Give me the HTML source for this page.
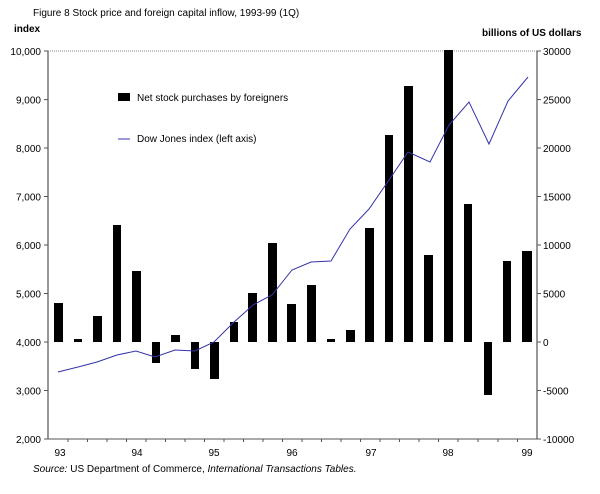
<!DOCTYPE html>
<html><head><style>
body{margin:0;background:#fff;}
svg text{font-family:"Liberation Sans",Arial,sans-serif;font-size:10px;fill:#000;}
</style></head><body>
<svg width="600" height="489" xmlns="http://www.w3.org/2000/svg">
<rect width="600" height="489" fill="#fff"/>
<text x="33" y="16" font-size="10.5">Figure 8   Stock price and foreign capital inflow, 1993-99 (1Q)</text>
<text x="14" y="32" font-weight="bold">index</text>
<text x="482" y="36" font-weight="bold">billions of US dollars</text>
<line x1="48" y1="51" x2="537" y2="51" stroke="#888" stroke-dasharray="1,1"/>
<line x1="48" y1="51" x2="48" y2="439" stroke="#777" stroke-width="1.5"/>
<line x1="537" y1="51" x2="537" y2="439" stroke="#777" stroke-width="1.5"/>
<line x1="48" y1="439" x2="537" y2="439" stroke="#555"/>
<g stroke="#555">
<line x1="44" y1="51" x2="48" y2="51"/><line x1="44" y1="99.6" x2="48" y2="99.6"/><line x1="44" y1="148" x2="48" y2="148"/><line x1="44" y1="196.5" x2="48" y2="196.5"/><line x1="44" y1="245" x2="48" y2="245"/><line x1="44" y1="293.5" x2="48" y2="293.5"/><line x1="44" y1="342" x2="48" y2="342"/><line x1="44" y1="390.5" x2="48" y2="390.5"/><line x1="44" y1="439" x2="48" y2="439"/>
<line x1="537" y1="51" x2="541" y2="51"/><line x1="537" y1="99.6" x2="541" y2="99.6"/><line x1="537" y1="148" x2="541" y2="148"/><line x1="537" y1="196.5" x2="541" y2="196.5"/><line x1="537" y1="245" x2="541" y2="245"/><line x1="537" y1="293.5" x2="541" y2="293.5"/><line x1="537" y1="342" x2="541" y2="342"/><line x1="537" y1="390.5" x2="541" y2="390.5"/><line x1="537" y1="439" x2="541" y2="439"/>
<path d="M68 439v3M87.5 439v3M107 439v3M126.5 439v3M146 439v3M165.5 439v3M185 439v3M204.5 439v3M224 439v3M243.5 439v3M263 439v3M282.5 439v3M302 439v3M321.5 439v3M341 439v3M360.5 439v3M380 439v3M399.5 439v3M419 439v3M438.5 439v3M458 439v3M478 439v3M498 439v3M517.5 439v3"/>
</g>
<g text-anchor="end">
<text x="41" y="55">10,000</text><text x="41" y="103.6">9,000</text><text x="41" y="152">8,000</text><text x="41" y="200.5">7,000</text><text x="41" y="249">6,000</text><text x="41" y="297.5">5,000</text><text x="41" y="346">4,000</text><text x="41" y="394.5">3,000</text><text x="41" y="443">2,000</text>
</g>
<g>
<text x="543" y="55">30000</text><text x="543" y="103.6">25000</text><text x="543" y="152">20000</text><text x="543" y="200.5">15000</text><text x="543" y="249">10000</text><text x="543" y="297.5">5000</text><text x="543" y="346">0</text><text x="543" y="394.5">-5000</text><text x="543" y="443">-10000</text>
</g>
<g text-anchor="middle">
<text x="60" y="456">93</text><text x="137" y="456">94</text><text x="214" y="456">95</text><text x="292" y="456">96</text><text x="371" y="456">97</text><text x="448" y="456">98</text><text x="527" y="456">99</text>
</g>
<g fill="#000">
<rect x="54" y="303" width="9" height="39"/>
<rect x="74" y="339" width="8" height="3"/>
<rect x="93" y="316" width="9" height="26"/>
<rect x="113" y="225" width="8" height="117"/>
<rect x="132" y="271" width="9" height="71"/>
<rect x="152" y="342" width="8" height="21"/>
<rect x="171" y="335" width="9" height="7"/>
<rect x="191" y="342" width="8" height="27"/>
<rect x="210" y="342" width="9" height="37"/>
<rect x="230" y="322" width="8" height="20"/>
<rect x="248" y="293" width="9" height="49"/>
<rect x="268" y="243" width="9" height="99"/>
<rect x="287" y="304" width="9" height="38"/>
<rect x="307" y="285" width="9" height="57"/>
<rect x="327" y="339" width="8" height="3"/>
<rect x="346" y="330" width="9" height="12"/>
<rect x="365" y="228" width="9" height="114"/>
<rect x="385" y="135" width="8" height="207"/>
<rect x="404" y="86" width="9" height="256"/>
<rect x="424" y="255" width="9" height="87"/>
<rect x="444" y="50" width="9" height="292"/>
<rect x="464" y="204" width="8" height="138"/>
<rect x="484" y="342" width="8" height="53"/>
<rect x="503" y="261" width="8" height="81"/>
<rect x="522" y="251" width="10" height="91"/>
</g>
<polyline fill="none" stroke="#3333aa" stroke-width="1" points="58,372 78,367 97,362 117,355 136,351 155,357 175,350 195,351 214,342 233,323 253,305 272,295 292,270 311,262 331,261 350,229 369,209 389,180 408,152 430,162 449,125 469,102 489,144 508,101 528,77"/>
<rect x="118" y="93" width="12" height="8" fill="#000"/>
<text x="137" y="101">Net stock purchases by foreigners</text>
<line x1="118" y1="139" x2="130" y2="139" stroke="#3333aa"/>
<text x="137" y="142">Dow Jones index (left axis)</text>
<text x="33" y="472" font-size="9"><tspan font-style="italic">Source:</tspan>  US Department of Commerce,  <tspan font-style="italic">International Transactions Tables.</tspan></text>
</svg>
</body></html>
